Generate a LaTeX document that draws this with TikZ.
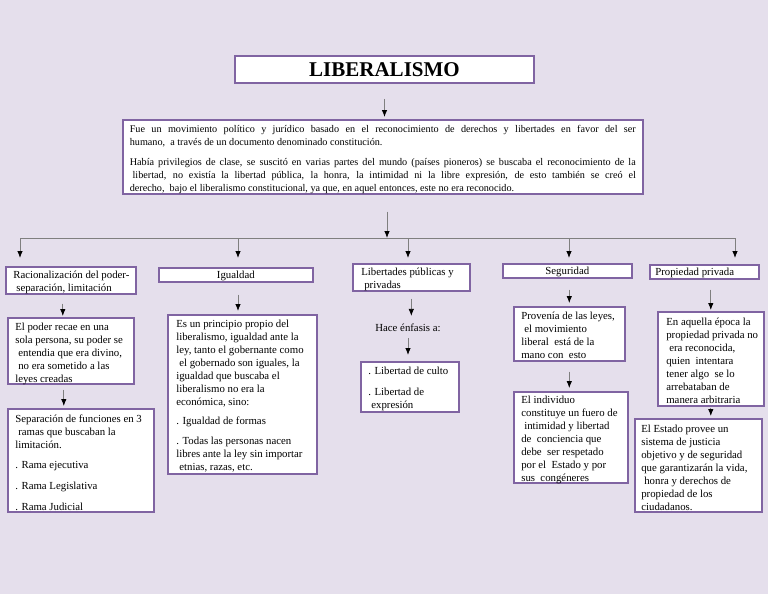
\documentclass[tikz,border=0pt]{standalone}
\usepackage{fontspec}
\setmainfont{Liberation Serif}
\usetikzlibrary{arrows.meta,calc}
\definecolor{bg}{HTML}{E5DFEC}
\definecolor{pur}{HTML}{8064A2}
\definecolor{ln}{HTML}{7F7F7F}
\newcommand{\lsp}{\hspace*{0.28em}}
% inset, width, height, first-baseline, text
\newcommand{\bt}[5]{\hspace*{#1}\parbox[c][#3][t]{#2}{\raggedright\rule{0pt}{#4}#5}}
\begin{document}
\begin{tikzpicture}[x=1pt,y=-1pt,
  bx/.style={draw=pur, line width=1.6pt, fill=white, inner sep=0pt,
    font=\fontsize{10.8}{13}\selectfont, align=left, anchor=north west},
  arr/.style={draw=ln, line width=0.8pt, -{Latex[length=7pt,width=5.5pt,color=black]}},
  plain/.style={draw=ln, line width=0.8pt},
  lbl/.style={inner sep=2pt, font=\fontsize{10.8}{13}\selectfont}
]
\useasboundingbox[fill=bg] (0,0) rectangle (768,594);

% title and main text
\node[bx, anchor=center, minimum width=299pt, minimum height=27pt, align=center,
  font=\fontsize{21}{24}\selectfont\bfseries] (title) at (384.5,69.5) {LIBERALISMO};
\node[bx, minimum width=520pt, minimum height=74pt, font=\fontsize{10.2}{13}\selectfont] (main) at (122,119)
  {\hspace*{7pt}\parbox[c][74pt][t]{506pt}{\rule{0pt}{12.5pt}Fue un movimiento político y jurídico basado en el reconocimiento de derechos y libertades en favor del ser\linebreak
   humano,\ \ a través de un documento denominado constitución.\par\vspace{7pt}
   Había privilegios de clase, se suscitó en varias partes del mundo (países pioneros) se buscaba el reconocimiento de la\linebreak
   \lsp libertad, no existía la libertad pública, la honra, la intimidad ni la libre expresión, de esto también se creó el\linebreak
   derecho,\ \ bajo el liberalismo constitucional, ya que, en aquel entonces, este no era reconocido.}\hspace*{7pt}};

% level 2
\node[bx, minimum width=130pt, minimum height=27pt] (r1) at (5,266)
  {\bt{7pt}{122pt}{27pt}{12pt}{Racionalización del poder-\\\lsp separación, limitación}};
\node[bx, minimum width=154pt, minimum height=14pt] (r2) at (158,267)
  {\bt{0pt}{154pt}{14pt}{11pt}{\centering Igualdad}};
\node[bx, minimum width=117pt, minimum height=27pt] (r3) at (352,263)
  {\bt{8pt}{108pt}{27pt}{12pt}{Libertades públicas y\\\lsp privadas}};
\node[bx, minimum width=129pt, minimum height=14pt] (r4) at (502,263)
  {\bt{0pt}{129pt}{14pt}{11pt}{\centering Seguridad}};
\node[bx, minimum width=109pt, minimum height=14pt] (r5) at (649,264)
  {\bt{5pt}{103pt}{14pt}{11pt}{Propiedad privada}};

% level 3
\node[bx, minimum width=126pt, minimum height=66pt] (a1) at (7,317)
  {\bt{7pt}{118pt}{66pt}{13pt}{El poder recae en una\\sola persona, su poder se\\\lsp entendia que era divino,\\\lsp no era sometido a las\\leyes creadas}};
\node[bx, minimum width=146pt, minimum height=103pt] (a2) at (7,408)
  {\bt{7pt}{138pt}{103pt}{14pt}{Separación de funciones en 3\\\lsp ramas que buscaban la\\limitación.\\[7pt]
   . Rama ejecutiva\\[8pt]. Rama Legislativa\\[8pt]. Rama Judicial}};
\node[bx, minimum width=149pt, minimum height=159pt] (b1) at (167,314)
  {\bt{8pt}{140pt}{159pt}{13pt}{Es un principio propio del\\liberalismo, igualdad ante la\\ley, tanto el gobernante como\\\lsp el gobernado son iguales, la\\igualdad que buscaba el\\liberalismo no era la\\económica, sino:\\[6pt]
   . Igualdad de formas\\[7pt]. Todas las personas nacen\\libres ante la ley sin importar\\\lsp etnias, razas, etc.}};
\node[lbl] (c0) at (408,328) {Hace énfasis a:};
\node[bx, minimum width=98pt, minimum height=50pt] (c1) at (360,361)
  {\bt{7pt}{90pt}{50pt}{13pt}{. Libertad de culto\\[8pt]. Libertad de\\\lsp expresión}};
\node[bx, minimum width=111pt, minimum height=54pt] (d1) at (513,306)
  {\bt{7pt}{103pt}{54pt}{13pt}{Provenía de las leyes,\\\lsp el movimiento\\liberal\ \ está de la\\mano con\ \ esto}};
\node[bx, minimum width=114pt, minimum height=91pt] (d2) at (513,391)
  {\bt{7pt}{106pt}{91pt}{12pt}{El individuo\\constituye un fuero de\\\lsp intimidad y libertad\\de\ \ conciencia que\\debe\ \ ser respetado\\por el\ \ Estado y por\\sus\ \ congéneres}};
\node[bx, minimum width=106pt, minimum height=94pt] (e1) at (657,311)
  {\bt{8pt}{97pt}{94pt}{14pt}{En aquella época la\\propiedad privada no\\\lsp era reconocida,\\quien\ \ intentara\\tener algo\ \ se lo\\arrebataban de\\manera arbitraria}};
\node[bx, minimum width=127pt, minimum height=93pt] (e2) at (634,418)
  {\bt{6pt}{120pt}{93pt}{14pt}{El Estado provee un\\sistema de justicia\\objetivo y de seguridad\\que garantizarán la vida,\\\lsp honra y derechos de\\propiedad de los\\ciudadanos.}};

% connectors
\coordinate (hub) at (387,238);
\coordinate (bl) at (20,238);
\coordinate (b2) at (238,238);
\coordinate (b3) at (408,238);
\coordinate (b4) at (569,238);
\coordinate (br) at (735,238);

\draw[arr, shorten <=15pt, shorten >=2pt] (title.south) -- (title.south |- main.north);
\draw[arr, shorten <=17pt] (main.south -| hub) -- (hub);
\draw[plain] (bl) -- (br);
\draw[arr, shorten >=8pt] (bl) -- (bl |- r1.north);
\draw[arr, shorten >=9pt] (b2) -- (b2 |- r2.north);
\draw[arr, shorten >=5pt] (b3) -- (b3 |- r3.north);
\draw[arr, shorten >=5pt] (b4) -- (b4 |- r4.north);
\draw[arr, shorten >=6pt] (br) -- (br |- r5.north);

\draw[arr, shorten <=9pt, shorten >=1pt] ([xshift=-8pt]r1.south) -- ([xshift=-8pt]r1.south |- a1.north);
\draw[arr, shorten <=5pt, shorten >=2pt] ([xshift=-7pt]a1.south) -- ([xshift=-7pt]a1.south |- a2.north);
\draw[arr, shorten <=12pt, shorten >=3pt] (r2.south -| b2) -- (b1.north -| b2);
\draw[arr, shorten <=7pt, shorten >=6pt] (r3.south) -- (r3.south |- c0.north);
\draw[arr, shorten <=4pt, shorten >=6pt] (c0.south) -- (c0.south |- c1.north);
\draw[arr, shorten <=11pt, shorten >=3pt] (d1.north |- r4.south) -- (d1.north);
\draw[arr, shorten <=10pt, shorten >=3pt] (d1.south) -- (d1.south |- d2.north);
\draw[arr, shorten <=10pt, shorten >=1pt] (e1.north |- r5.south) -- (e1.north);
\draw[arr, shorten <=1pt, shorten >=2pt] (e1.south) -- (e1.south |- e2.north);
\end{tikzpicture}
\end{document}
